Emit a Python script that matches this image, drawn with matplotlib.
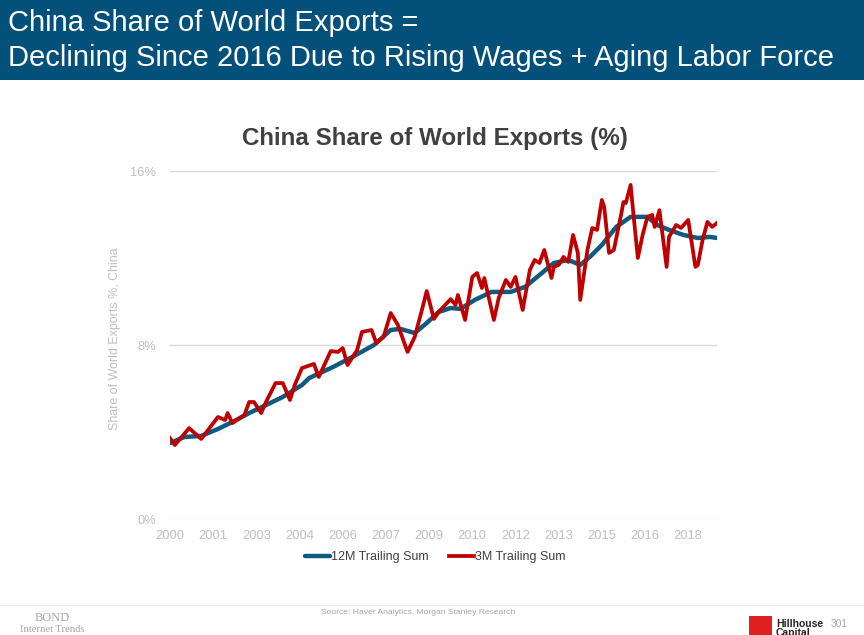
import matplotlib
matplotlib.use("Agg")
import matplotlib.pyplot as plt
import matplotlib.patches as patches

plt.rcParams["font.family"] = ["Liberation Sans", "DejaVu Sans"]

# ── Data (% of world exports) ─────────────────────────────────────────────────
red_dates = ["2000-01", "2000-03", "2000-09", "2001-02", "2001-09", "2001-12",
             "2002-01", "2002-03", "2002-08", "2002-10", "2002-12", "2003-03",
             "2003-05", "2003-09", "2003-12", "2004-03", "2004-05", "2004-08",
             "2005-01", "2005-03", "2005-08", "2005-11", "2006-01", "2006-03",
             "2006-07", "2006-09", "2007-01", "2007-03", "2007-06", "2007-09",
             "2007-12", "2008-04", "2008-07", "2008-10", "2008-12", "2009-03",
             "2009-05", "2009-10", "2009-12", "2010-01", "2010-04", "2010-07",
             "2010-09", "2010-11", "2010-12", "2011-04", "2011-06", "2011-09",
             "2011-11", "2012-01", "2012-04", "2012-07", "2012-09", "2012-11",
             "2013-01", "2013-04", "2013-05", "2013-07", "2013-09", "2013-11",
             "2014-01", "2014-03", "2014-04", "2014-07", "2014-09", "2014-11",
             "2015-01", "2015-02", "2015-04", "2015-06", "2015-09", "2015-10",
             "2015-11", "2016-01", "2016-02", "2016-04", "2016-06", "2016-08",
             "2016-10", "2016-11", "2017-01", "2017-04", "2017-05", "2017-08",
             "2017-10", "2018-01", "2018-04", "2018-05", "2018-07", "2018-09",
             "2018-11", "2019-01"]
red_values = [3.72, 3.40, 4.18, 3.68, 4.69, 4.55,
              4.87, 4.41, 4.78, 5.38, 5.38, 4.87,
              5.38, 6.25, 6.25, 5.47, 6.16, 6.94,
              7.13, 6.53, 7.72, 7.68, 7.86, 7.08,
              7.77, 8.60, 8.69, 8.09, 8.37, 9.47,
              8.92, 7.68, 8.37, 9.61, 10.48, 9.20,
              9.52, 10.11, 9.84, 10.30, 9.15, 11.13,
              11.31, 10.62, 11.08, 9.15, 10.16, 10.99,
              10.67, 11.13, 9.61, 11.45, 11.91, 11.77,
              12.37, 11.08, 11.59, 11.68, 12.05, 11.82,
              13.06, 12.23, 10.07, 12.37, 13.38, 13.29,
              14.67, 14.34, 12.23, 12.37, 13.98, 14.57,
              14.53, 15.36, 14.20, 12.00, 13.06, 13.89,
              13.98, 13.43, 14.20, 11.59, 12.97, 13.52,
              13.38, 13.75, 11.59, 11.68, 12.83, 13.66,
              13.43, 13.61]

blue_dates = ["2000-01", "2000-07", "2001-02", "2001-09", "2002-03", "2002-10",
              "2003-05", "2003-12", "2004-08", "2004-11", "2005-09", "2006-05",
              "2007-02", "2007-09", "2008-01", "2008-07", "2008-12", "2009-05",
              "2009-10", "2010-02", "2010-08", "2011-03", "2011-11", "2012-05",
              "2012-12", "2013-05", "2013-11", "2014-04", "2014-08", "2015-01",
              "2015-07", "2016-01", "2016-08", "2016-12", "2017-05", "2017-11",
              "2018-05", "2018-10", "2019-01"]
blue_values = [3.49, 3.77, 3.82, 4.14, 4.46, 4.87,
               5.24, 5.61, 6.16, 6.48, 6.99, 7.45,
               8.00, 8.69, 8.74, 8.55, 9.01, 9.52,
               9.70, 9.66, 10.07, 10.44, 10.44, 10.67,
               11.31, 11.77, 11.91, 11.68, 12.05, 12.60,
               13.43, 13.89, 13.89, 13.52, 13.29, 13.06,
               12.92, 12.97, 12.92]

y_ticks = [0, 8, 16]
y_tick_labels = ["0%", "8%", "16%"]
x_tick_years = [2000, 2001, 2003, 2004, 2006, 2007, 2009, 2010, 2012, 2013, 2015, 2016, 2018]

BLUE = "#0F5A80"
RED = "#C00000"
GRAY = "#BFBFBF"


def month_index(d):
    y, m = d.split("-")
    return (int(y) - 2000) * 12 + int(m) - 1


red_x = [month_index(d) for d in red_dates]
blue_x = [month_index(d) for d in blue_dates]

W, H = 864, 635
fig = plt.figure(figsize=(W / 100, H / 100), dpi=100)
fig.patch.set_facecolor("white")

# ── Header bar ────────────────────────────────────────────────────────────────
fig.add_artist(patches.Rectangle((0, 1 - 80 / H), 1, 80 / H, transform=fig.transFigure,
                                 facecolor="#03517A", edgecolor="none", zorder=0))
fig.text(8 / W, 1 - 23 / H, "China Share of World Exports =", color="white",
         fontsize=21.0, va="center", ha="left")
fig.text(8 / W, 1 - 58 / H, "Declining Since 2016 Due to Rising Wages + Aging Labor Force",
         color="white", fontsize=21.0, va="center", ha="left")

# ── Chart ─────────────────────────────────────────────────────────────────────
fig.text(435 / W, 1 - 138 / H, "China Share of World Exports (%)", color="#404040",
         fontsize=17.4, fontweight="bold", ha="center", va="center")

ax = fig.add_axes([170 / W, 1 - 519 / H, 547 / W, 348 / H])
ax.plot(blue_x, blue_values, color=BLUE, lw=3.2, solid_capstyle="round",
        label="12M Trailing Sum", zorder=3)
ax.plot(red_x, red_values, color=RED, lw=2.7, solid_joinstyle="round",
        label="3M Trailing Sum", zorder=4)

ax.set_xlim(0, 228)
ax.set_ylim(0, 16)
ax.set_yticks(y_ticks)
ax.set_yticklabels(y_tick_labels)
ax.set_xticks([(yr - 2000) * 12 + (i % 2) * 6 for i, yr in enumerate(x_tick_years)])
ax.set_xticklabels([str(yr) for yr in x_tick_years])
ax.tick_params(length=0, colors=GRAY, labelsize=9.3)
ax.tick_params(axis="y", pad=10)
ax.tick_params(axis="x", pad=8)
ax.grid(axis="y", color="#D9D9D9", lw=1)
ax.set_axisbelow(True)
for s in ax.spines.values():
    s.set_visible(False)

fig.text(115 / W, 1 - 339 / H, "Share of World Exports %, China", color=GRAY,
         fontsize=8.9, rotation=90, ha="center", va="center")

leg = ax.legend(loc="center", bbox_to_anchor=(435 / W, 1 - 557 / H),
                bbox_transform=fig.transFigure, ncol=2, frameon=False,
                fontsize=9, handlelength=2.0, handletextpad=0.1, columnspacing=1.6)
for t in leg.get_texts():
    t.set_color("#404040")

# ── Footer ────────────────────────────────────────────────────────────────────
fig.add_artist(plt.Line2D([0, 1], [1 - 605 / H, 1 - 605 / H], transform=fig.transFigure,
                          color="#EEEEEE", lw=0.8))
fig.text(52 / W, 1 - 618 / H, "BOND", color="#A6A6A6", fontsize=9,
         family=["Liberation Serif", "DejaVu Serif"], ha="center", va="center")
fig.text(52 / W, 1 - 630 / H, "Internet Trends", color="#A6A6A6", fontsize=7.6,
         family=["Liberation Serif", "DejaVu Serif"], ha="center", va="center")
fig.text(418 / W, 1 - 612 / H, "Source: Haver Analytics, Morgan Stanley Research",
         color="#A6A6A6", fontsize=6.1, ha="center", va="center")
fig.add_artist(patches.Rectangle((749 / W, 0), 23 / W, 19 / H, transform=fig.transFigure,
                                 facecolor="#E02020", edgecolor="none"))
fig.text(776 / W, 1 - 624 / H, "Hillhouse", color="#222222", fontsize=7.5,
         fontweight="bold", ha="left", va="center")
fig.text(776 / W, 1 - 633 / H, "Capital", color="#222222", fontsize=7.5,
         fontweight="bold", ha="left", va="center")
fig.text(831 / W, 1 - 624 / H, "301", color="#A6A6A6", fontsize=7.3, ha="left", va="center")

fig.savefig("out.png", dpi=100)
